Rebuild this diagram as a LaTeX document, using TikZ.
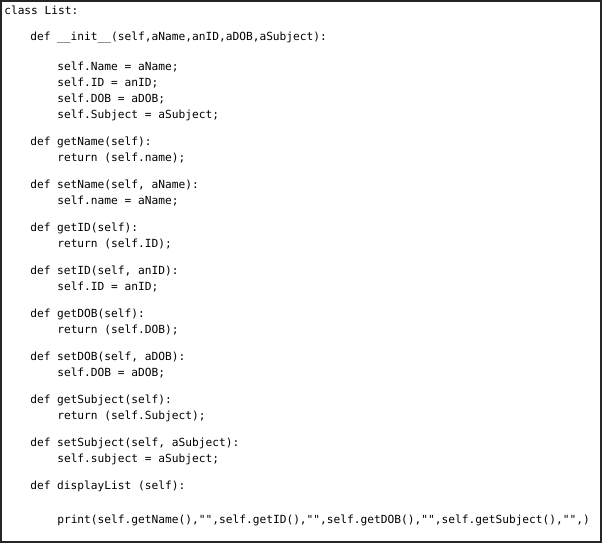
\documentclass[tikz,border=0pt]{standalone}
\usepackage{fontspec}
\setmonofont{DejaVu Sans Mono}
\begin{document}
\begin{tikzpicture}[x=0.75pt,y=-0.75pt,
  code/.style={anchor=west,inner sep=0pt,font=\ttfamily\fontsize{8.4}{10}\selectfont,text=black}]
\useasboundingbox (0,0) rectangle (602,543);
\draw[line width=0.8pt,black!85] (1,1) rectangle (601,542);
\node[code] (l1) at (4,10) {class List:};
\node[code] (l2) at (30,38) {def \_\_init\_\_(self,aName,anID,aDOB,aSubject):};
\node[code] (l3) at (57,67) {self.Name = aName;};
\node[code] (l4) at (57,83) {self.ID = anID;};
\node[code] (l5) at (57,99) {self.DOB = aDOB;};
\node[code] (l6) at (57,115) {self.Subject = aSubject;};
\node[code] (l7) at (30,142) {def getName(self):};
\node[code] (l8) at (57,158) {return (self.name);};
\node[code] (l9) at (30,185) {def setName(self, aName):};
\node[code] (l10) at (57,201) {self.name = aName;};
\node[code] (l11) at (30,228) {def getID(self):};
\node[code] (l12) at (57,244) {return (self.ID);};
\node[code] (l13) at (30,271) {def setID(self, anID):};
\node[code] (l14) at (57,287) {self.ID = anID;};
\node[code] (l15) at (30,314) {def getDOB(self):};
\node[code] (l16) at (57,330) {return (self.DOB);};
\node[code] (l17) at (30,357) {def setDOB(self, aDOB):};
\node[code] (l18) at (57,373) {self.DOB = aDOB;};
\node[code] (l19) at (30,400) {def getSubject(self):};
\node[code] (l20) at (57,416) {return (self.Subject);};
\node[code] (l21) at (30,443) {def setSubject(self, aSubject):};
\node[code] (l22) at (57,459) {self.subject = aSubject;};
\node[code] (l23) at (30,486) {def displayList (self):};
\node[code] (l24) at (57,520) {print(self.getName(),"",self.getID(),"",self.getDOB(),"",self.getSubject(),"",)};
\end{tikzpicture}
\end{document}
